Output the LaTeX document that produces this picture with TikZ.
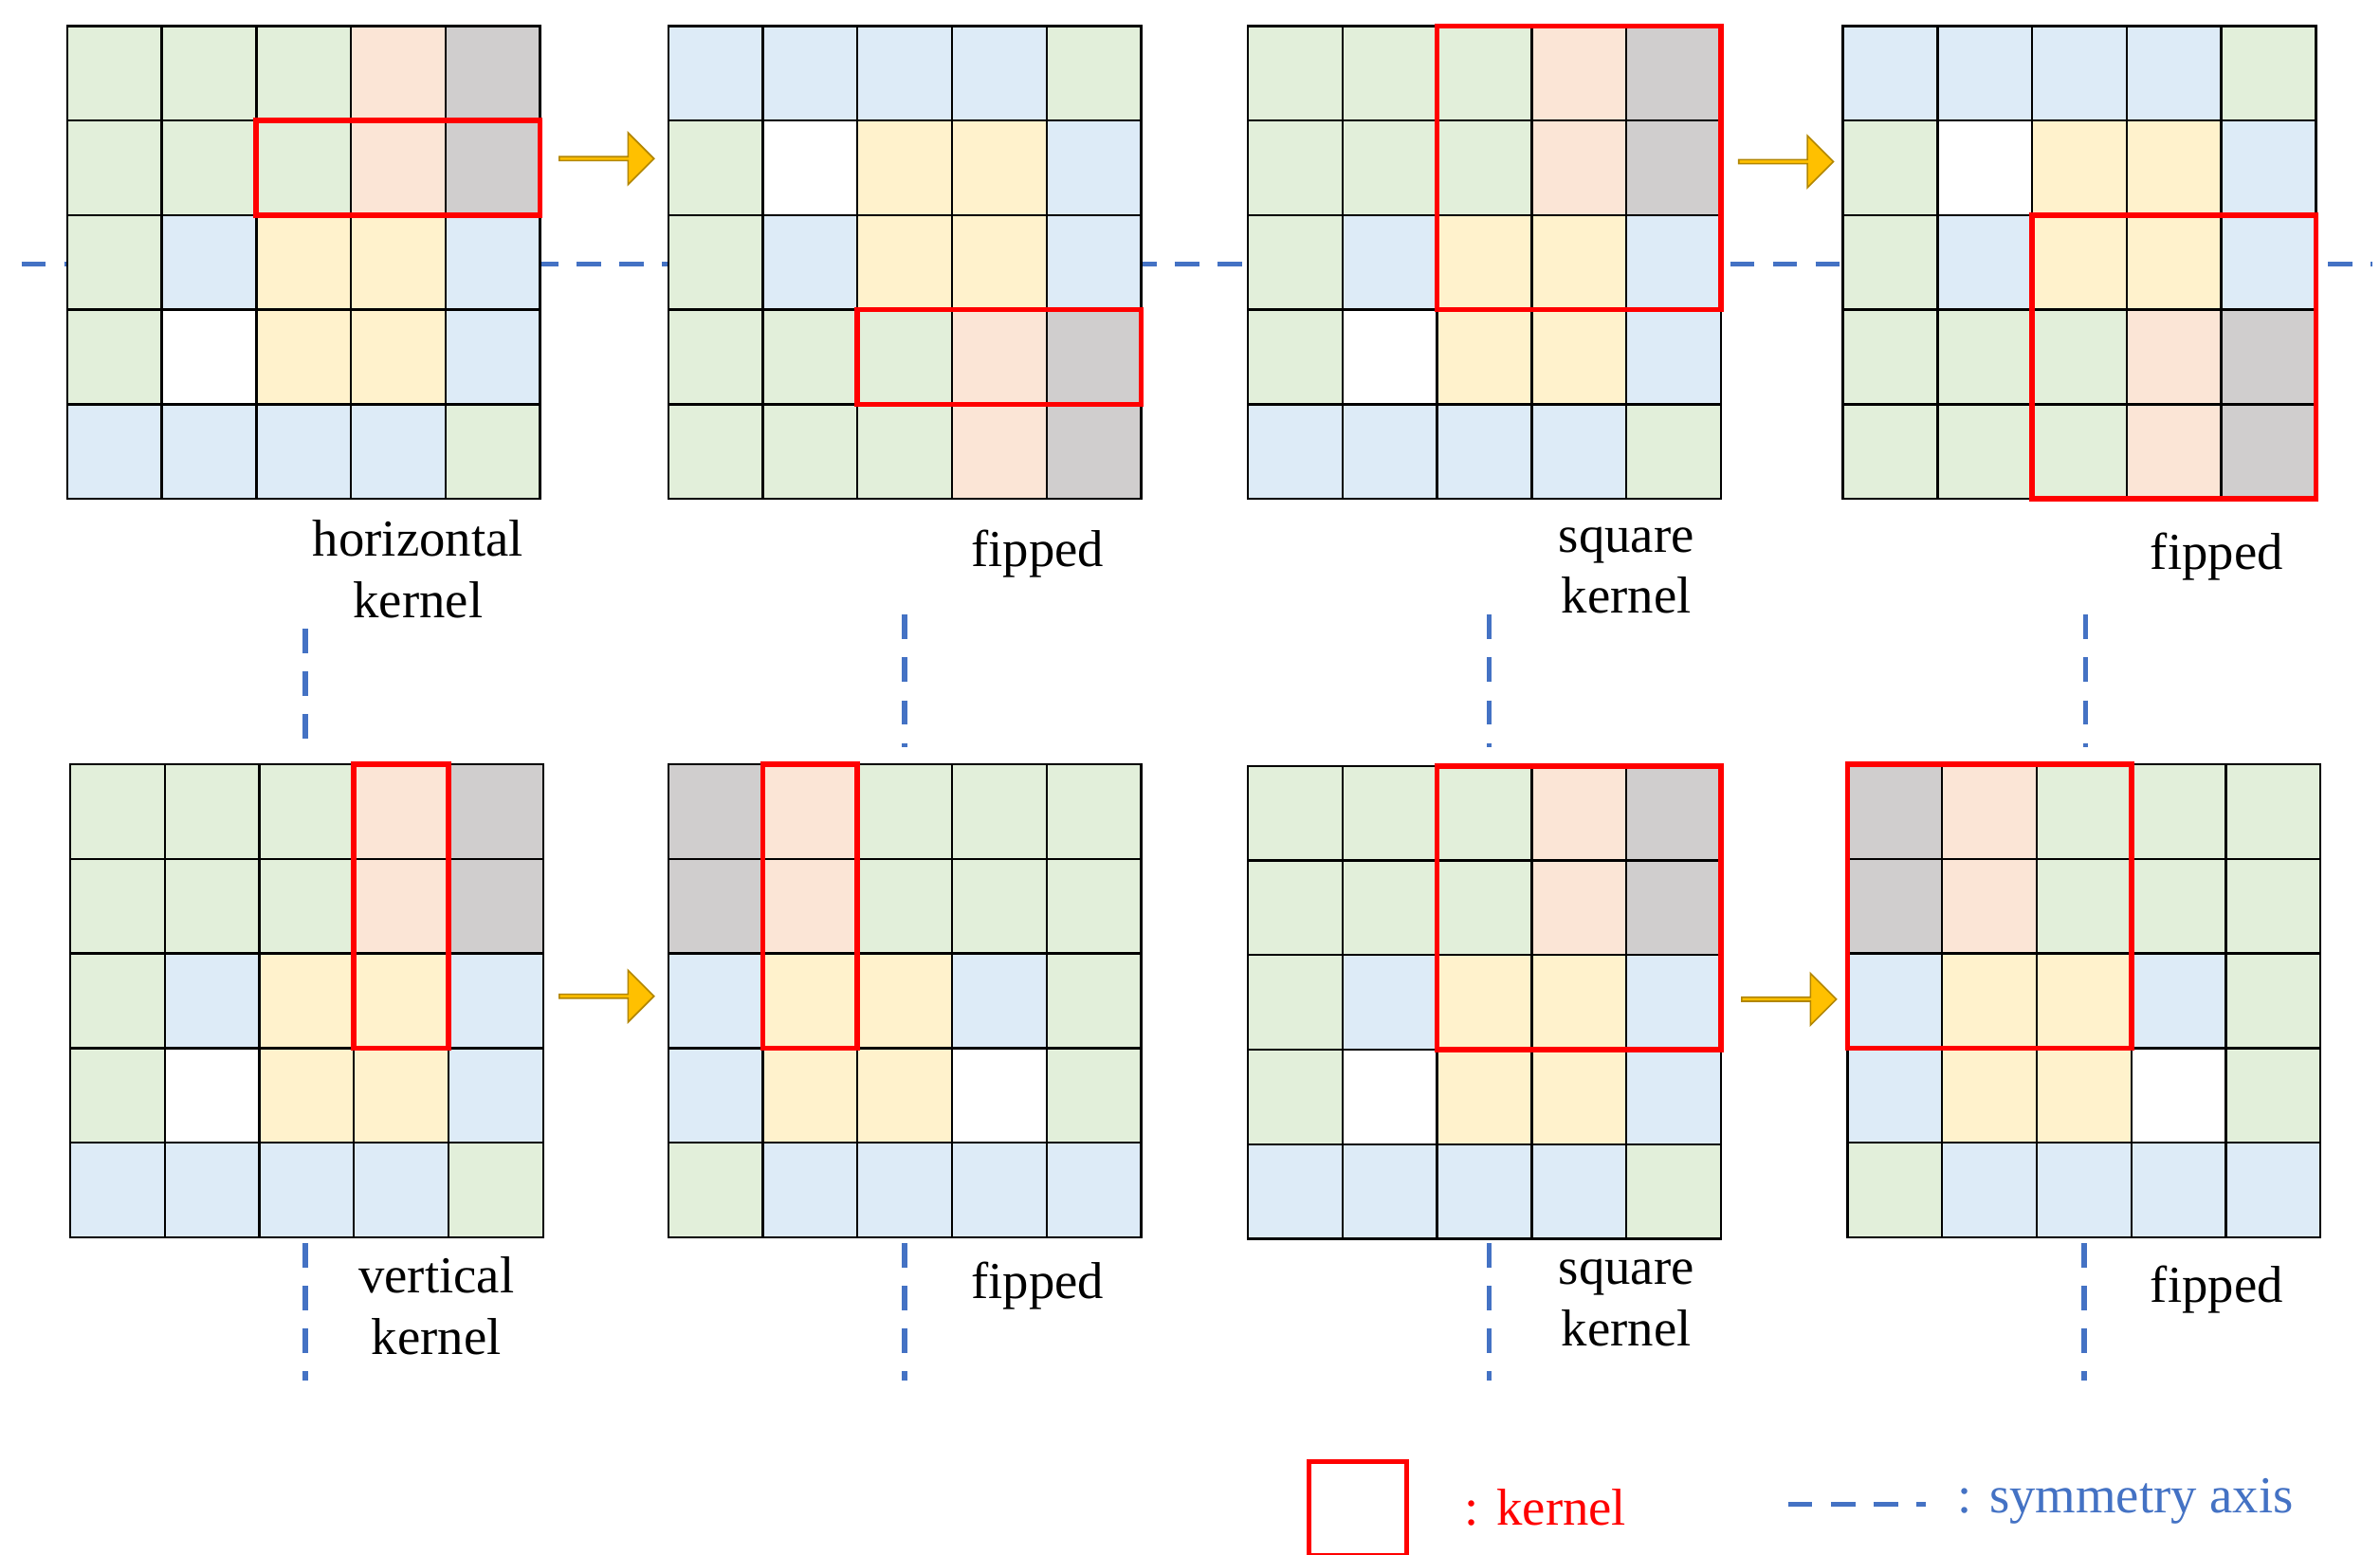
\documentclass[tikz,border=0pt]{standalone}
\usepackage{fontspec}
\setmainfont{Liberation Serif}
\usetikzlibrary{shapes.arrows}
\definecolor{G}{HTML}{E2EFDA}
\definecolor{B}{HTML}{DDEBF7}
\definecolor{Y}{HTML}{FFF2CC}
\definecolor{P}{HTML}{FBE5D6}
\definecolor{D}{HTML}{D0CECE}
\definecolor{W}{HTML}{FFFFFF}
\definecolor{axis}{HTML}{4472C4}
\definecolor{kred}{HTML}{FF0000}
\definecolor{arr}{HTML}{FFC000}
\tikzset{
 cell/.style={draw=black,line width=1.5pt},
 kern/.style={draw=kred,line width=3.5pt},
 ax/.style={draw=axis,line width=3.5pt,dash pattern=on 16pt off 12pt},
 lbl/.style={font=\fontsize{34}{40}\selectfont,align=center,inner sep=0pt},
 yarrow/.style={single arrow,fill=arr,draw=arr!70!black,line width=1pt,minimum width=34pt,single arrow head extend=6pt,minimum height=62pt,inner sep=0pt}
}
\newcommand\mygrid[3]{%
 \foreach \c [count=\i from 0] in #3{%
  \pgfmathtruncatemacro\cc{mod(\i,5)}\pgfmathtruncatemacro\rr{int(\i/5)}%
  \fill[fill=\c] ({#1+62*\cc},{#2+62*\rr}) rectangle ++(62,62);}
 \foreach \k in {1,2,3,4}{%
  \draw[cell] ({#1+62*\k},#2) -- ++(0,310);
  \draw[cell] (#1,{#2+62*\k}) -- ++(310,0);}
 \draw[cell] (#1,#2) rectangle ++(310,310);}
\begin{document}
\begin{tikzpicture}[x=1pt,y=-1pt]
\useasboundingbox (0,0) rectangle (1560,1019);
\coordinate (hl) at (14,173); \coordinate (hr) at (1555,173);
\draw[ax] (hl) -- (hr);
\def\A{G,G,G,P,D,G,G,G,P,D,G,B,Y,Y,B,G,W,Y,Y,B,B,B,B,B,G}
\def\V{B,B,B,B,G,G,W,Y,Y,B,G,B,Y,Y,B,G,G,G,P,D,G,G,G,P,D}
\def\H{D,P,G,G,G,D,P,G,G,G,B,Y,Y,B,G,B,Y,Y,W,G,G,B,B,B,B}
\mygrid{44}{17}{\A}
\mygrid{438}{17}{\V}
\mygrid{818}{17}{\A}
\mygrid{1208}{17}{\V}
\mygrid{46}{501}{\A}
\mygrid{438}{501}{\H}
\mygrid{818}{502}{\A}
\mygrid{1211}{501}{\H}
% kernels
\draw[kern] (168,79) rectangle (354,141);
\draw[kern] (562,203) rectangle (748,265);
\draw[kern] (942,17) rectangle (1128,203);
\draw[kern] (1332,141) rectangle (1518,327);
\draw[kern] (232,501) rectangle (294,687);
\draw[kern] (500,501) rectangle (562,687);
\draw[kern] (942,502) rectangle (1128,688);
\draw[kern] (1211,501) rectangle (1397,687);
% arrows
\node[yarrow] (a1) at (397,104) {};
\node[yarrow] (a2) at (1170,106) {};
\node[yarrow] (a3) at (397,653) {};
\node[yarrow] (a4) at (1172,655) {};
% vertical axes
\foreach \x/\a/\b in {200/412/490,593/403/490,976/403/490,1367/403/490,200/815/905,593/815/905,976/815/905,1366/815/905}{
 \draw[ax] (\x,\a) -- (\x,\b);}
% labels
\node[lbl] (l1) at (274,373) {horizontal\\kernel};
\node[lbl] (l2) at (680,363) {fipped};
\node[lbl] (l3) at (1066,374) {square\\kernel};
\node[lbl] (l4) at (1453,365) {fipped};
\node[lbl] (l5) at (286,856) {vertical\\kernel};
\node[lbl] (l6) at (680,843) {fipped};
\node[lbl] (l7) at (1066,854) {square\\kernel};
\node[lbl] (l8) at (1453,845) {fipped};
% legend
\draw[kern] (858,958) rectangle (922,1020);
\node[lbl,text=kred,anchor=west] (lk) at (960,988) {: kernel};
\coordinate (la) at (1172,986); \coordinate (lb) at (1262,986);
\draw[ax] (la) -- (lb);
\node[lbl,text=axis,anchor=west] (ls) at (1283,984) {: symmetry axis};
\end{tikzpicture}
\end{document}
